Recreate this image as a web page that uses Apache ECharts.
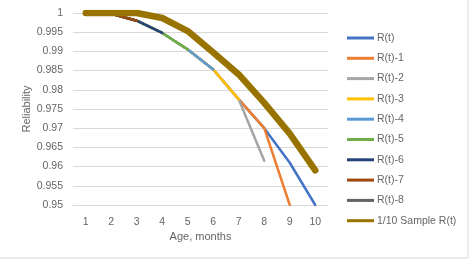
<!DOCTYPE html>
<html>
<head>
<meta charset="utf-8">
<script src="https://cdn.jsdelivr.net/npm/echarts@6/dist/echarts.min.js"></script>
<style>
  html, body { margin: 0; padding: 0; background: #fff; }
  #chart { width: 474px; height: 264px; }
</style>
</head>
<body>
<div id="chart"></div>
<script>
const months = ["1", "2", "3", "4", "5", "6", "7", "8", "9", "10"];
const yTicks = { min: 0.95, max: 1, step: 0.005 };

const rt  = [1, 0.9998, 0.998, 0.9948, 0.9905, 0.9853, 0.9775, 0.970, 0.961, 0.950];
const rt1 = [1, 0.9998, 0.998, 0.9948, 0.9905, 0.9853, 0.9775, 0.970, 0.950, null];
const rt2 = [1, 0.9998, 0.998, 0.9948, 0.9905, 0.9853, 0.9775, 0.9615, null, null];
const rt3 = [1, 0.9998, 0.998, 0.9948, 0.9905, 0.9853, 0.9775, null, null, null];
const rt4 = [1, 0.9998, 0.998, 0.9948, 0.9905, 0.9853, null, null, null, null];
const rt5 = [1, 0.9998, 0.998, 0.9948, 0.9905, null, null, null, null, null];
const rt6 = [1, 0.9998, 0.998, 0.9948, null, null, null, null, null, null];
const rt7 = [1, 0.9998, 0.998, null, null, null, null, null, null, null];
const rt8 = [1, 0.9998, null, null, null, null, null, null, null, null];
const sample = [1, 1, 1, 0.9987, 0.9953, 0.9897, 0.984, 0.9766, 0.9686, 0.959];

const seriesDefs = [
  ["R(t)", rt, "#4472C4", 2.5],
  ["R(t)-1", rt1, "#ED7D31", 2.5],
  ["R(t)-2", rt2, "#A5A5A5", 2.5],
  ["R(t)-3", rt3, "#FFC000", 2.5],
  ["R(t)-4", rt4, "#5B9BD5", 2.5],
  ["R(t)-5", rt5, "#70AD47", 2.5],
  ["R(t)-6", rt6, "#264478", 2.5],
  ["R(t)-7", rt7, "#9E480E", 2.5],
  ["R(t)-8", rt8, "#636363", 2.5],
  ["1/10 Sample R(t)", sample, "#997300", 6.5]
];

const font = "'Liberation Sans', 'DejaVu Sans', sans-serif";
const textColor = "#666666";
const chart = echarts.init(document.getElementById("chart"), null, { renderer: "canvas" });

chart.setOption({
  animation: false,
  textStyle: { fontFamily: font },
  grid: { left: 73, right: 146, top: 13, bottom: 59, containLabel: false },
  xAxis: {
    type: "category",
    data: months,
    boundaryGap: true,
    name: "Age, months",
    nameLocation: "middle",
    nameGap: 26,
    nameMoveOverlap: false,
    nameTextStyle: { color: textColor, fontSize: 11, fontFamily: font },
    axisLine: { show: true, lineStyle: { color: "#d9d9d9" } },
    axisTick: { show: false },
    axisLabel: { color: textColor, fontSize: 10.5, margin: 12, fontFamily: font }
  },
  yAxis: {
    type: "value",
    min: yTicks.min,
    max: yTicks.max,
    interval: yTicks.step,
    name: "Reliability",
    nameLocation: "middle",
    nameGap: 41,
    nameMoveOverlap: false,
    nameTextStyle: { color: textColor, fontSize: 11, fontFamily: font },
    axisLine: { show: false },
    axisTick: { show: false },
    axisLabel: {
      color: textColor,
      fontSize: 10.5,
      margin: 10,
      fontFamily: font,
      formatter: (v) => String(+v.toFixed(3))
    },
    splitLine: { lineStyle: { color: "#d9d9d9", width: 1 } }
  },
  legend: {
    orient: "vertical",
    left: 347,
    top: 32,
    padding: 0,
    itemWidth: 27,
    itemHeight: 3,
    itemGap: 8.3,
    icon: "rect",
    textStyle: { color: textColor, fontSize: 10.5, lineHeight: 12, padding: [0, 0, 0, -2], fontFamily: font },
    data: seriesDefs.map((d) => d[0])
  },
  graphic: [{
    type: "rect",
    shape: { x: -1, y: -1, width: 469, height: 259 },
    style: { fill: "none", stroke: "#d9d9d9", lineWidth: 1 },
    silent: true
  }],
  series: seriesDefs.map(([name, data, color, width]) => ({
    name,
    type: "line",
    data,
    showSymbol: false,
    symbol: "none",
    connectNulls: false,
    lineStyle: { color, width, cap: "round", join: "round" },
    itemStyle: { color }
  }))
});
</script>
</body>
</html>
